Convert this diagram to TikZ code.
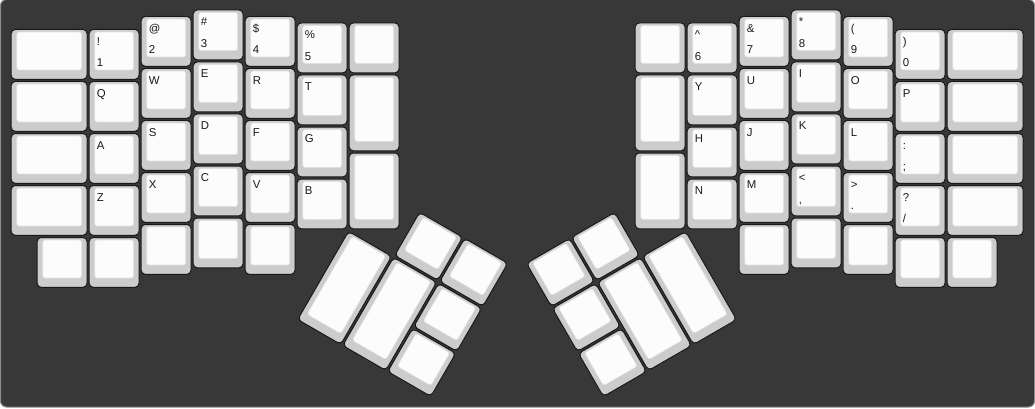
\documentclass[tikz,border=0pt]{standalone}
\usepackage{fontspec}
\setmainfont{Liberation Sans}
\definecolor{bgc}{HTML}{383838}
\definecolor{capc}{HTML}{CCCCCC}
\definecolor{topc}{HTML}{FCFCFC}
\definecolor{legc}{HTML}{1A1A1A}
\tikzset{
  keyouter/.style={fill=capc,draw=black!90,line width=1pt,rounded corners=4pt},
  keyinner/.style={fill=topc,draw=black!12,line width=0.6pt,rounded corners=2.5pt},
  legend/.style={anchor=base west,inner sep=0pt,text=legc,font=\fontsize{11.4}{13}\selectfont},
}
% x y w h top bottom
\newcommand\kbkey[6]{%
  \begin{scope}[shift={(10.2pt+#1*52pt,-9pt-#2*52pt)}]
    \draw[keyouter] (1pt,-1pt) rectangle (#3*52pt-1.2pt,-#4*52pt+1.2pt);
    \draw[keyinner] (6.5pt,-3.5pt) rectangle (#3*52pt-6.5pt,-#4*52pt+10.5pt);
    \node[legend] at (8.5pt,-16.8pt) {#5};
    \node[legend] at (8.5pt,-38.3pt) {#6};
  \end{scope}}
\begin{document}
\begin{tikzpicture}[x=1pt,y=1pt]
\useasboundingbox (0,0) rectangle (1035,-409);
\fill[white] (0,0) rectangle (1035,-409);
\draw[fill=bgc,draw=black!45,line width=1pt,rounded corners=6pt] (0.5,0.5) rectangle (1034.5,-407);
% left hand
\kbkey{3.5}{0}{1}{1}{\#}{3}
\kbkey{2.5}{0.125}{1}{1}{@}{2}
\kbkey{4.5}{0.125}{1}{1}{\$}{4}
\kbkey{5.5}{0.25}{1}{1}{\%}{5}
\kbkey{6.5}{0.25}{1}{1}{}{}
\kbkey{0}{0.375}{1.5}{1}{}{}
\kbkey{1.5}{0.375}{1}{1}{!}{1}
\kbkey{3.5}{1}{1}{1}{E}{}
\kbkey{2.5}{1.125}{1}{1}{W}{}
\kbkey{4.5}{1.125}{1}{1}{R}{}
\kbkey{5.5}{1.25}{1}{1}{T}{}
\kbkey{6.5}{1.25}{1}{1.5}{}{}
\kbkey{0}{1.375}{1.5}{1}{}{}
\kbkey{1.5}{1.375}{1}{1}{Q}{}
\kbkey{3.5}{2}{1}{1}{D}{}
\kbkey{2.5}{2.125}{1}{1}{S}{}
\kbkey{4.5}{2.125}{1}{1}{F}{}
\kbkey{5.5}{2.25}{1}{1}{G}{}
\kbkey{0}{2.375}{1.5}{1}{}{}
\kbkey{1.5}{2.375}{1}{1}{A}{}
\kbkey{6.5}{2.75}{1}{1.5}{}{}
\kbkey{3.5}{3}{1}{1}{C}{}
\kbkey{2.5}{3.125}{1}{1}{X}{}
\kbkey{4.5}{3.125}{1}{1}{V}{}
\kbkey{5.5}{3.25}{1}{1}{B}{}
\kbkey{0}{3.375}{1.5}{1}{}{}
\kbkey{1.5}{3.375}{1}{1}{Z}{}
\kbkey{3.5}{4}{1}{1}{}{}
\kbkey{2.5}{4.125}{1}{1}{}{}
\kbkey{4.5}{4.125}{1}{1}{}{}
\kbkey{0.5}{4.375}{1}{1}{}{}
\kbkey{1.5}{4.375}{1}{1}{}{}
% right hand
\kbkey{15}{0}{1}{1}{*}{8}
\kbkey{14}{0.125}{1}{1}{\&}{7}
\kbkey{16}{0.125}{1}{1}{(}{9}
\kbkey{12}{0.25}{1}{1}{}{}
\kbkey{13}{0.25}{1}{1}{\^{}}{6}
\kbkey{17}{0.375}{1}{1}{)}{0}
\kbkey{18}{0.375}{1.5}{1}{}{}
\kbkey{15}{1}{1}{1}{I}{}
\kbkey{14}{1.125}{1}{1}{U}{}
\kbkey{16}{1.125}{1}{1}{O}{}
\kbkey{12}{1.25}{1}{1.5}{}{}
\kbkey{13}{1.25}{1}{1}{Y}{}
\kbkey{17}{1.375}{1}{1}{P}{}
\kbkey{18}{1.375}{1.5}{1}{}{}
\kbkey{15}{2}{1}{1}{K}{}
\kbkey{14}{2.125}{1}{1}{J}{}
\kbkey{16}{2.125}{1}{1}{L}{}
\kbkey{13}{2.25}{1}{1}{H}{}
\kbkey{17}{2.375}{1}{1}{:}{;}
\kbkey{18}{2.375}{1.5}{1}{}{}
\kbkey{12}{2.75}{1}{1.5}{}{}
\kbkey{15}{3}{1}{1}{<}{,}
\kbkey{14}{3.125}{1}{1}{M}{}
\kbkey{16}{3.125}{1}{1}{>}{.}
\kbkey{13}{3.25}{1}{1}{N}{}
\kbkey{17}{3.375}{1}{1}{?}{/}
\kbkey{18}{3.375}{1.5}{1}{}{}
\kbkey{15}{4}{1}{1}{}{}
\kbkey{14}{4.125}{1}{1}{}{}
\kbkey{16}{4.125}{1}{1}{}{}
\kbkey{17}{4.375}{1}{1}{}{}
\kbkey{18}{4.375}{1}{1}{}{}
% left thumb cluster
\begin{scope}[rotate around={-30:(10.2+6.5*52,-9-4.25*52)}]
\kbkey{7.5}{3.25}{1}{1}{}{}
\kbkey{8.5}{3.25}{1}{1}{}{}
\kbkey{6.5}{4.25}{1}{2}{}{}
\kbkey{7.5}{4.25}{1}{2}{}{}
\kbkey{8.5}{4.25}{1}{1}{}{}
\kbkey{8.5}{5.25}{1}{1}{}{}
\end{scope}
% right thumb cluster
\begin{scope}[rotate around={30:(10.2+13*52,-9-4.25*52)}]
\kbkey{10}{3.25}{1}{1}{}{}
\kbkey{11}{3.25}{1}{1}{}{}
\kbkey{10}{4.25}{1}{1}{}{}
\kbkey{11}{4.25}{1}{2}{}{}
\kbkey{12}{4.25}{1}{2}{}{}
\kbkey{10}{5.25}{1}{1}{}{}
\end{scope}
\end{tikzpicture}
\end{document}
